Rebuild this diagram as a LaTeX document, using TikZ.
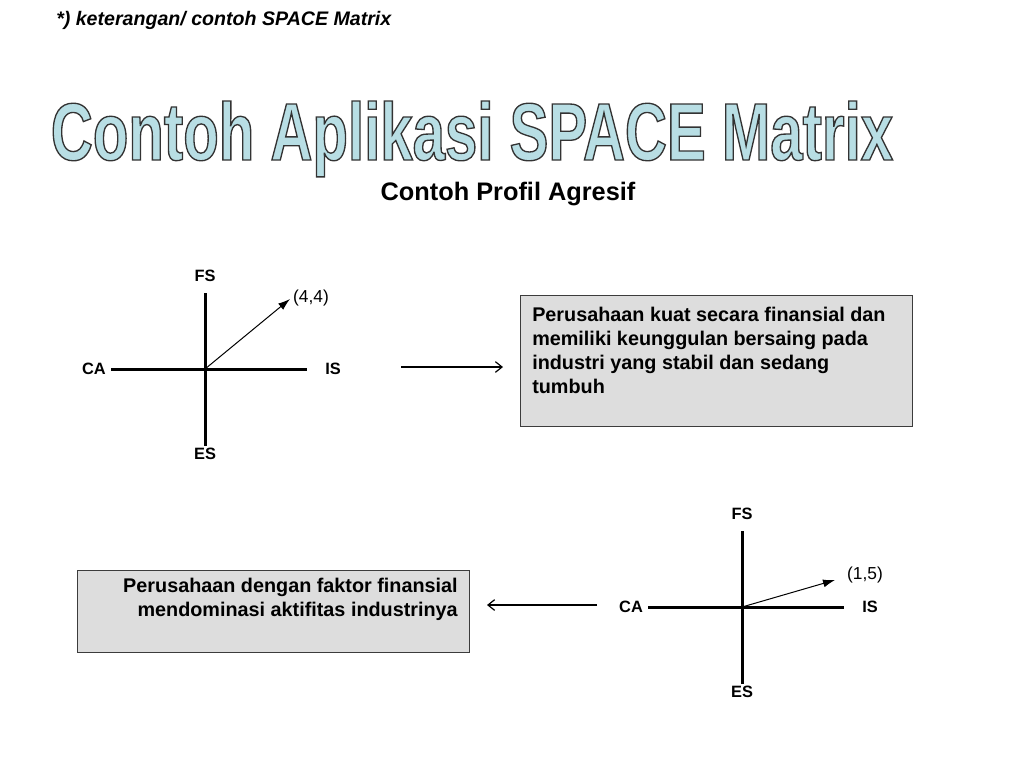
\documentclass[tikz,border=0pt]{standalone}
\usepackage{fontspec}
\setmainfont{Liberation Sans}
\newfontfamily\titlefont{Liberation Sans}[FakeStretch=0.715]
\usepackage{xcolor}
\usetikzlibrary{arrows.meta}

\definecolor{titleblue}{RGB}{184,222,228}
\definecolor{boxgray}{RGB}{221,221,221}
\definecolor{edgegray}{RGB}{60,60,60}
\newcommand{\outlined}[1]{\special{pdf:literal direct 2 Tr 1.0 w 0.2 0.2 0.2 RG}#1\special{pdf:literal direct 0 Tr}}

\begin{document}
\begin{tikzpicture}[x=0.75pt,y=-0.75pt,
  axis/.style={line width=2.25pt},
  vec/.style={-{Latex[length=9pt,width=6pt]}, line width=0.75pt},
  link/.style={-{Straight Barb[length=5pt,width=8pt]}, line width=0.9pt},
  axlabel/.style={font=\bfseries\fontsize{12.3}{14}\selectfont, inner sep=0pt},
  vallabel/.style={font=\fontsize{13}{15}\selectfont, inner sep=0pt},
  infobox/.style={draw=edgegray, fill=boxgray, line width=0.9pt, inner sep=0pt, minimum width=294pt},
  infotext/.style={font=\bfseries\fontsize{14.85}{18}\selectfont, inner sep=0pt}]
%page frame
\fill[white] (0,0) rectangle (1024,768);
\useasboundingbox (0,0) rectangle (1024,768);
%draw headings
\node[anchor=base west, inner sep=0pt, font=\bfseries\itshape\fontsize{14.7}{17}\selectfont] (note) at (56,25) {*) keterangan/ contoh SPACE Matrix};
\node[anchor=base, inner sep=0pt, text=titleblue, font=\titlefont\bfseries\fontsize{61}{68}\selectfont] (title) at (472,160) {\outlined{Contoh Aplikasi SPACE Matrix}};
\node[anchor=base, inner sep=0pt, font=\bfseries\fontsize{19}{22}\selectfont] (subtitle) at (508,200) {Contoh Profil Agresif};
%draw both axis crosses
\foreach \n/\cx/\cy/\vx/\vy/\lx/\ly/\val in {1/205/369/85/-70/311/298/{(4,4)}, 2/742/607/93/-27/865/575/{(1,5)}}{
   \coordinate (o\n) at (\cx,\cy);
   \coordinate (top\n) at (\cx,\cy-76);
   \coordinate (bot\n) at (\cx,\cy+77);
   \coordinate (lft\n) at (\cx-94,\cy);
   \coordinate (rgt\n) at (\cx+102,\cy);
   \coordinate (tip\n) at (\cx+\vx,\cy+\vy);
   \draw[axis] (top\n) -- (bot\n);
   \draw[axis] (lft\n) -- (rgt\n);
   \draw[vec] (o\n) -- (tip\n);
   \node[axlabel] (fs\n) at (\cx,\cy-93) {FS};
   \node[axlabel] (es\n) at (\cx,\cy+85) {ES};
   \node[axlabel] (ca\n) at (\cx-111,\cy) {CA};
   \node[axlabel] (is\n) at (\cx+128,\cy) {IS};
   \node[vallabel] (val\n) at (\lx,\ly) {\val};
}
%draw boxes
\node[infobox, minimum height=98.25pt, anchor=north west] (box1) at (520,295) {};
\node[infotext, anchor=north west, align=left] (txt1) at (532,306.5) {Perusahaan kuat secara finansial dan\\memiliki keunggulan bersaing pada\\industri yang stabil dan sedang\\tumbuh};
\node[infobox, minimum height=61.5pt, anchor=north west] (box2) at (77,570) {};
\node[infotext, anchor=north east, align=right] (txt2) at (458,577.5) {Perusahaan dengan faktor finansial\\mendominasi aktifitas industrinya};
%draw arrows
\coordinate (link1a) at (401,367);
\coordinate (link1b) at (503,367);
\coordinate (link2a) at (597,605);
\coordinate (link2b) at (487,605);
\draw[link] (link1a) -- (link1b);
\draw[link] (link2a) -- (link2b);
\end{tikzpicture}
\end{document}
